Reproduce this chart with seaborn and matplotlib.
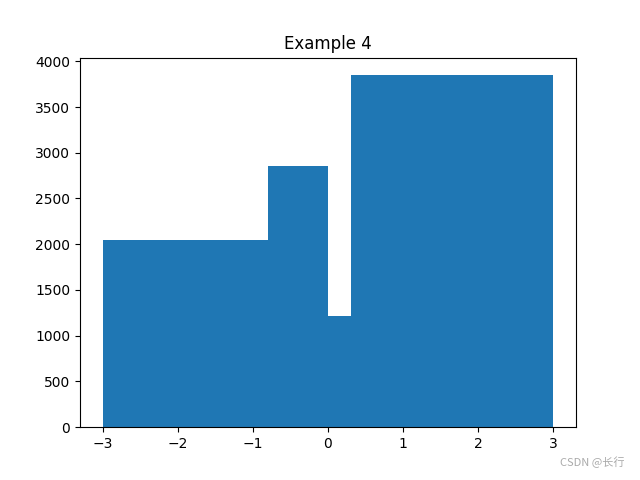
import matplotlib
matplotlib.use("Agg")
import matplotlib.pyplot as plt
import seaborn as sns
import numpy as np

# bin edges and counts
bin_edges = [-3.0, -0.8, 0.0, 0.3, 3.0]
bin_counts = [2050, 2850, 1220, 3845]

centers = [(a + b) / 2 for a, b in zip(bin_edges[:-1], bin_edges[1:])]

fig, ax = plt.subplots(figsize=(6.4, 4.8), dpi=100)
sns.histplot(x=centers, weights=bin_counts, bins=bin_edges, stat="count",
             color="#1f77b4", alpha=1, edgecolor="none", linewidth=0, ax=ax)
ax.set_title("Example 4")
ax.set_xlabel("")
ax.set_ylabel("")
ax.set_xticks([-3, -2, -1, 0, 1, 2, 3])
ax.set_xticklabels(["\u22123", "\u22122", "\u22121", "0", "1", "2", "3"])
ax.set_ylim(0, 4040)

fig.text(0.975, 0.025, "CSDN @长行", ha="right", va="bottom", fontsize=8,
         color="#aaaaaa", family=["Noto Sans CJK SC", "DejaVu Sans"])
fig.savefig("out.png")
